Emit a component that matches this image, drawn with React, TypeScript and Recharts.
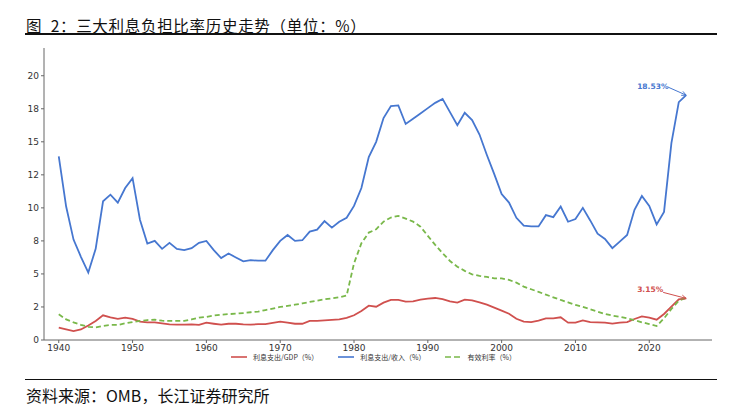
import { Line, LineChart, XAxis, YAxis } from "recharts";

// 1940–2025, annual
const years = Array.from({ length: 86 }, (_, i) => 1940 + i);

const interestToGdp = [
  0.93, 0.8, 0.68, 0.8, 1.1, 1.44, 1.87, 1.72, 1.6, 1.69,
  1.6, 1.39, 1.34, 1.34, 1.26, 1.19, 1.17, 1.17, 1.19, 1.14,
  1.31, 1.23, 1.16, 1.23, 1.23, 1.18, 1.16, 1.2, 1.2, 1.29,
  1.39, 1.31, 1.23, 1.23, 1.44, 1.44, 1.49, 1.52, 1.56, 1.67,
  1.87, 2.2, 2.6, 2.52, 2.83, 3.03, 3.03, 2.9, 2.93, 3.05,
  3.13, 3.18, 3.1, 2.93, 2.83, 3.05, 3.0, 2.85, 2.67, 2.45,
  2.22, 1.99, 1.61, 1.39, 1.36, 1.46, 1.64, 1.64, 1.72, 1.31,
  1.32, 1.49, 1.36, 1.34, 1.31, 1.24, 1.31, 1.36, 1.59, 1.79,
  1.69, 1.54, 1.97, 2.52, 3.08, 3.15,
];

const interestToRevenue = [
  13.9, 10.1, 7.6, 6.3, 5.1, 6.9, 10.5, 11.0, 10.4, 11.5,
  12.25, 9.1, 7.3, 7.5, 6.9, 7.35, 6.9, 6.8, 6.95, 7.35,
  7.5, 6.8, 6.2, 6.55, 6.25, 5.95, 6.05, 6.0, 6.0, 6.8,
  7.5, 7.95, 7.5, 7.55, 8.2, 8.35, 9.0, 8.5, 8.95, 9.25,
  10.15, 11.5, 13.85, 15.0, 16.8, 17.7, 17.75, 16.35, 16.75, 17.15,
  17.55, 17.95, 18.25, 17.25, 16.25, 17.2, 16.65, 15.55, 14.0, 12.55,
  11.05, 10.4, 9.25, 8.65, 8.6, 8.6, 9.45, 9.3, 10.1, 8.95,
  9.15, 10.0, 9.05, 8.05, 7.65, 6.95, 7.45, 7.95, 9.85, 10.9,
  10.15, 8.75, 9.7, 14.9, 18.0, 18.53,
];

const effectiveRate = [
  1.94, 1.56, 1.34, 1.14, 1.0, 0.96, 1.06, 1.14, 1.14, 1.26,
  1.36, 1.44, 1.51, 1.54, 1.46, 1.44, 1.44, 1.44, 1.56, 1.69,
  1.75, 1.85, 1.92, 1.96, 1.99, 2.04, 2.1, 2.15, 2.27, 2.38,
  2.5, 2.58, 2.67, 2.77, 2.88, 2.98, 3.08, 3.15, 3.23, 3.36,
  5.8, 7.32, 8.13, 8.38, 8.96, 9.27, 9.39, 9.19, 8.96, 8.58,
  7.88, 7.2, 6.57, 5.98, 5.55, 5.23, 4.97, 4.85, 4.77, 4.67,
  4.66, 4.55, 4.34, 4.04, 3.84, 3.64, 3.43, 3.23, 3.03, 2.85,
  2.65, 2.5, 2.33, 2.15, 1.97, 1.85, 1.75, 1.64, 1.5, 1.34,
  1.21, 1.06, 1.64, 2.35, 2.98, 3.2,
];

const xTicks = [1940, 1950, 1960, 1970, 1980, 1990, 2000, 2010, 2020];
const yTicks = [0, 2.5, 5, 7.5, 10, 12.5, 15, 17.5, 20];

const RED = "#d0504e";
const BLUE = "#4677d0";
const GREEN = "#79b84a";
const FONT = '"DejaVu Sans", "Noto Sans CJK SC", sans-serif';
const CJK = '"Noto Sans CJK SC", "DejaVu Sans", sans-serif';

const data = years.map((year, i) => ({
  year,
  gdp: interestToGdp[i],
  revenue: interestToRevenue[i],
  rate: effectiveRate[i],
}));

// matplotlib-style "%.0f" (round half to even)
const fmtY = (v: number) => {
  let r = Math.round(v);
  if (Math.abs(v % 1) === 0.5 && r % 2 !== 0) r -= 1;
  return String(r);
};

function endNote(color: string, text: string, ax: number, ay: number) {
  return (p: any) => {
    if (p.index !== years.length - 1) return <g key={p.index} />;
    const { cx, cy } = p;
    const sx = cx + ax;
    const sy = cy + ay;
    const t = Math.atan2(cy - sy, cx - sx);
    const L = 5;
    const h1 = [cx - L * Math.cos(t - 0.45), cy - L * Math.sin(t - 0.45)];
    const h2 = [cx - L * Math.cos(t + 0.45), cy - L * Math.sin(t + 0.45)];
    return (
      <g key={p.index}>
        <text x={cx - 49} y={cy - 6} fill={color} fontSize={7.5} fontWeight="bold" fontFamily={FONT}>
          {text}
        </text>
        <line x1={sx} y1={sy} x2={cx} y2={cy} stroke={color} strokeWidth={1} />
        <polyline
          points={`${h1[0]},${h1[1]} ${cx},${cy} ${h2[0]},${h2[1]}`}
          fill="none"
          stroke={color}
          strokeWidth={1}
        />
      </g>
    );
  };
}

function LegendItem({ color, label, dashed }: { color: string; label: string; dashed?: boolean }) {
  return (
    <div style={{ display: "flex", alignItems: "center", marginRight: 20 }}>
      <svg width={16} height={4} style={{ marginRight: 6 }}>
        <line
          x1={0}
          y1={2}
          x2={16}
          y2={2}
          stroke={color}
          strokeWidth={1.6}
          strokeDasharray={dashed ? "6 3" : undefined}
        />
      </svg>
      <span>{label}</span>
    </div>
  );
}

export default function App() {
  return (
    <div
      style={{
        position: "absolute",
        left: 0,
        top: 0,
        width: 740,
        height: 418,
        background: "#fff",
        overflow: "hidden",
      }}
    >
      <div
        style={{
          position: "absolute",
          left: 26,
          top: 14,
          fontFamily: CJK,
          fontSize: 15.5,
          letterSpacing: 0.7,
          lineHeight: "22px",
          color: "#111",
          whiteSpace: "nowrap",
        }}
      >
        图{"\u2002"}2：三大利息负担比率历史走势（单位：%）
      </div>
      <div style={{ position: "absolute", left: 25, top: 33, width: 692, height: 1.5, background: "#111" }} />

      <LineChart
        width={740}
        height={418}
        data={data}
        margin={{ top: 48, right: 28, bottom: 58, left: 14 }}
      >
        <XAxis
          dataKey="year"
          type="number"
          domain={[1938, 2028.5]}
          ticks={xTicks}
          allowDataOverflow
          height={20}
          tickSize={3}
          stroke="#666"
          tick={{ fill: "#333", fontSize: 9, fontFamily: FONT }}
        />
        <YAxis
          domain={[0, 22.1]}
          ticks={yTicks}
          allowDataOverflow
          tickFormatter={fmtY}
          width={30}
          tickSize={3}
          stroke="#666"
          tick={{ fill: "#333", fontSize: 9, fontFamily: FONT }}
        />
        <YAxis yAxisId="right" orientation="right" width={0} tick={false} tickLine={false} stroke="#666" />
        <Line
          dataKey="gdp"
          stroke={RED}
          strokeWidth={1.8}
          dot={endNote(RED, "3.15%", -23, -6)}
          activeDot={false}
          isAnimationActive={false}
        />
        <Line
          dataKey="revenue"
          stroke={BLUE}
          strokeWidth={1.8}
          dot={endNote(BLUE, "18.53%", -18, -8)}
          activeDot={false}
          isAnimationActive={false}
        />
        <Line
          dataKey="rate"
          stroke={GREEN}
          strokeWidth={1.8}
          strokeDasharray="5 3"
          dot={false}
          activeDot={false}
          isAnimationActive={false}
        />
      </LineChart>

      <div
        style={{
          position: "absolute",
          left: 231,
          top: 353,
          display: "flex",
          fontFamily: CJK,
          fontSize: 7,
          lineHeight: "8px",
          color: "#333",
          whiteSpace: "nowrap",
        }}
      >
        <LegendItem color={RED} label="利息支出/GDP（%）" />
        <LegendItem color={BLUE} label="利息支出/收入（%）" />
        <LegendItem color={GREEN} label="有效利率（%）" dashed />
      </div>

      <div style={{ position: "absolute", left: 25, top: 378.5, width: 692, height: 1.5, background: "#111" }} />
      <div
        style={{
          position: "absolute",
          left: 26,
          top: 384,
          fontFamily: CJK,
          fontSize: 16,
          lineHeight: "22px",
          color: "#111",
          whiteSpace: "nowrap",
        }}
      >
        资料来源：OMB，长江证券研究所
      </div>
    </div>
  );
}
